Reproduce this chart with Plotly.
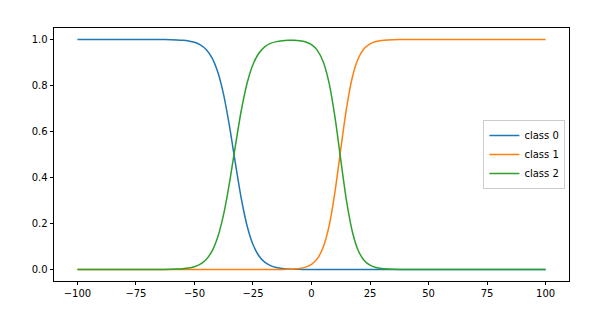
import plotly.graph_objects as go

x_vals = [-100, -80, -70, -65, -60, -57.5, -55, -52.5, -50, -47.5, -45, -42.5, -40,
          -37.5, -35, -32.5, -30, -27.5, -25, -22.5, -20, -17.5, -15, -12.5, -10,
          -7.5, -5, -2.5, 0, 2.5, 5, 7.5, 10, 12.5, 15, 17.5, 20, 22.5, 25, 27.5,
          30, 32.5, 35, 37.5, 40, 45, 50, 60, 70, 80, 100]

class0 = [1.0, 1.0, 0.9999, 0.99975, 0.99908, 0.99825, 0.99664, 0.9936, 0.9878, 0.9769,
          0.9567, 0.9201, 0.8574, 0.7584, 0.6211, 0.4611, 0.3087, 0.1891, 0.1085, 0.0597,
          0.0321, 0.0170, 0.0090, 0.0047, 0.0025, 0.0013, 0.0007, 0.0003, 0.0002, 0.0001,
          0.0, 0.0, 0.0, 0.0, 0.0, 0.0, 0.0, 0.0, 0.0, 0.0,
          0.0, 0.0, 0.0, 0.0, 0.0, 0.0, 0.0, 0.0, 0.0, 0.0, 0.0]

class1 = [0.0, 0.0, 0.0, 0.0, 0.0, 0.0, 0.0, 0.0, 0.0, 0.0,
          0.0, 0.0, 0.0, 0.0, 0.0, 0.0, 0.0, 0.0, 0.0, 0.0,
          0.0, 0.0001, 0.0002, 0.0005, 0.0010, 0.0022, 0.0048, 0.0104, 0.0223, 0.0471,
          0.0969, 0.1889, 0.3358, 0.5232, 0.7043, 0.8380, 0.9182, 0.9606, 0.9814, 0.99136,
          0.9960, 0.99815, 0.99915, 0.99961, 0.99982, 0.99996, 1.0, 1.0, 1.0, 1.0, 1.0]

class2 = [0.0, 0.0, 0.0001, 0.00025, 0.000916, 0.00175, 0.00336, 0.0064, 0.0122, 0.0231,
          0.0433, 0.0799, 0.1426, 0.2416, 0.3789, 0.5389, 0.6913, 0.8109, 0.8915, 0.9403,
          0.9679, 0.9829, 0.9908, 0.9948, 0.9965, 0.9965, 0.9945, 0.9893, 0.9776, 0.9529,
          0.9031, 0.8111, 0.6642, 0.4768, 0.2957, 0.1620, 0.0818, 0.0394, 0.0186, 0.00864,
          0.0040, 0.00185, 0.00085, 0.00039, 0.00018, 0.00004, 0.0, 0.0, 0.0, 0.0, 0.0]

series_names = ["class 0", "class 1", "class 2"]
series_colors = ["#1f77b4", "#ff7f0e", "#2ca02c"]

x_ticks = [-100, -75, -50, -25, 0, 25, 50, 75, 100]
x_ticktext = ["\u2212100", "\u221275", "\u221250", "\u221225", "0", "25", "50", "75", "100"]
y_ticks = [0.0, 0.2, 0.4, 0.6, 0.8, 1.0]
y_ticktext = ["0.0", "0.2", "0.4", "0.6", "0.8", "1.0"]

fig = go.Figure()
for name, ys, col in zip(series_names, [class0, class1, class2], series_colors):
    fig.add_trace(go.Scatter(x=x_vals, y=ys, mode="lines", name=name,
                             line=dict(color=col, width=1.5, shape="spline", smoothing=0.8)))

axis_common = dict(showline=True, linecolor="black", linewidth=0.8, mirror=True,
                   showgrid=False, zeroline=False, ticks="outside", ticklen=3.5,
                   tickwidth=0.8, tickcolor="black",
                   tickfont=dict(family="DejaVu Sans", size=10, color="#000000"))

fig.update_layout(
    width=600, height=313,
    margin=dict(l=54, r=31, t=28, b=32),
    paper_bgcolor="white", plot_bgcolor="white",
    xaxis=dict(range=[-110, 110], tickvals=x_ticks, ticktext=x_ticktext, **axis_common),
    yaxis=dict(range=[-0.05, 1.05], tickvals=y_ticks, ticktext=y_ticktext, **axis_common),
    legend=dict(x=0.993, y=0.5, xanchor="right", yanchor="middle",
                bgcolor="rgba(255,255,255,0.8)", bordercolor="#cccccc", borderwidth=1,
                font=dict(family="DejaVu Sans", size=10, color="#000000"),
                itemwidth=30, tracegroupgap=0),
    showlegend=True,
)

fig.write_html("out.html")
